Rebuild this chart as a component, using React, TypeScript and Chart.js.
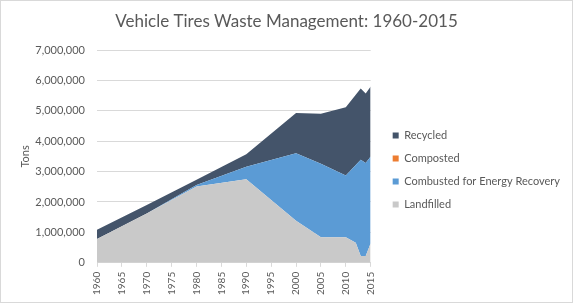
import React, { useEffect, useRef } from 'react';
import { Chart, registerables } from 'chart.js';

Chart.register(...registerables);

const years = [1960, 1970, 1980, 1990, 2000, 2005, 2010, 2012, 2013, 2014, 2015];
const landfilled = [780000, 1620000, 2510000, 2750000, 1380000, 840000, 840000, 660000, 220000, 220000, 640000];
const combusted = [0, 0, 50000, 410000, 2220000, 2420000, 2030000, 2560000, 3170000, 3060000, 2860000];
const composted = [0, 0, 0, 0, 0, 0, 0, 0, 0, 0, 0];
const recycled = [310000, 280000, 170000, 410000, 1330000, 1640000, 2250000, 2310000, 2340000, 2290000, 2300000];

const FONT = 'Lato';
const TEXT = '#595959';

const legendPlacer = {
  id: 'legendPlacer',
  afterLayout(chart: any) {
    const lg = chart.legend;
    if (!lg) return;
    const ca = chart.chartArea;
    const w = lg.width;
    const h = lg.height;
    lg.left = ca.right + 10;
    lg.right = lg.left + w;
    lg.top = 117;
    lg.bottom = lg.top + h;
  },
};

function pts(vals: number[]) {
  return years.map((x, i) => ({ x, y: vals[i] }));
}

export default function App() {
  const ref = useRef<HTMLCanvasElement>(null);
  useEffect(() => {
    const chart = new Chart(ref.current as HTMLCanvasElement, {
      type: 'line',
      data: {
        datasets: [
          { label: 'Landfilled', data: pts(landfilled), backgroundColor: '#c9c9c9', borderColor: '#c9c9c9', borderWidth: 0, fill: 'origin', pointRadius: 0 },
          { label: 'Combusted for Energy Recovery', data: pts(combusted), backgroundColor: '#5b9bd5', borderColor: '#5b9bd5', borderWidth: 0, fill: '-1', pointRadius: 0 },
          { label: 'Composted', data: pts(composted), backgroundColor: '#ed7d31', borderColor: '#ed7d31', borderWidth: 0, fill: '-1', pointRadius: 0 },
          { label: 'Recycled', data: pts(recycled), backgroundColor: '#44546a', borderColor: '#44546a', borderWidth: 0, fill: '-1', pointRadius: 0 },
        ],
      },
      options: {
        responsive: false,
        animation: false,
        layout: { padding: { left: 12, right: 12, top: 0, bottom: 2 } },
        elements: { line: { tension: 0 } },
        plugins: {
          title: {
            display: true,
            text: 'Vehicle Tires Waste Management: 1960-2015',
            color: TEXT,
            font: { family: FONT, size: 17, weight: 'normal' },
            padding: { top: 10, bottom: 18.6 },
          },
          legend: {
            position: 'right',
            align: 'start',
            reverse: true,
            maxWidth: 220,
            labels: {
              boxWidth: 6,
              boxHeight: 6,
              padding: 12,
              color: TEXT,
              font: { family: FONT, size: 11 },
            },
          },
          tooltip: { enabled: false },
        },
        scales: {
          x: {
            type: 'linear',
            min: 1960,
            max: 2015,
            ticks: {
              stepSize: 5,
              autoSkip: false,
              minRotation: 90,
              maxRotation: 90,
              color: TEXT,
              font: { family: FONT, size: 10 },
              padding: 5,
              callback: (v: any) => String(v),
            },
            grid: { drawOnChartArea: false, drawTicks: true, tickLength: 4, color: '#d9d9d9' },
            border: { color: '#d9d9d9' },
          },
          y: {
            stacked: true,
            min: 0,
            max: 7000000,
            afterFit: (s: any) => {
              s.width = 84;
            },
            ticks: {
              stepSize: 1000000,
              color: TEXT,
              font: { family: FONT, size: 11 },
              padding: 12,
            },
            grid: { color: '#d9d9d9', drawTicks: false },
            border: { display: false },
            title: {
              display: true,
              text: 'Tons',
              color: TEXT,
              font: { family: FONT, size: 11 },
              padding: { top: 6, bottom: 2 },
            },
          },
        },
      },
      plugins: [legendPlacer],
    } as any);
    return () => chart.destroy();
  }, []);

  return (
    <div
      style={{
        position: 'absolute',
        left: 0,
        top: 0,
        width: 573,
        height: 303,
        boxSizing: 'border-box',
        border: '1px solid #d9d9d9',
        background: '#fff',
      }}
    >
      <canvas ref={ref} width={571} height={301} style={{ display: 'block', width: 571, height: 301 }} />
    </div>
  );
}
